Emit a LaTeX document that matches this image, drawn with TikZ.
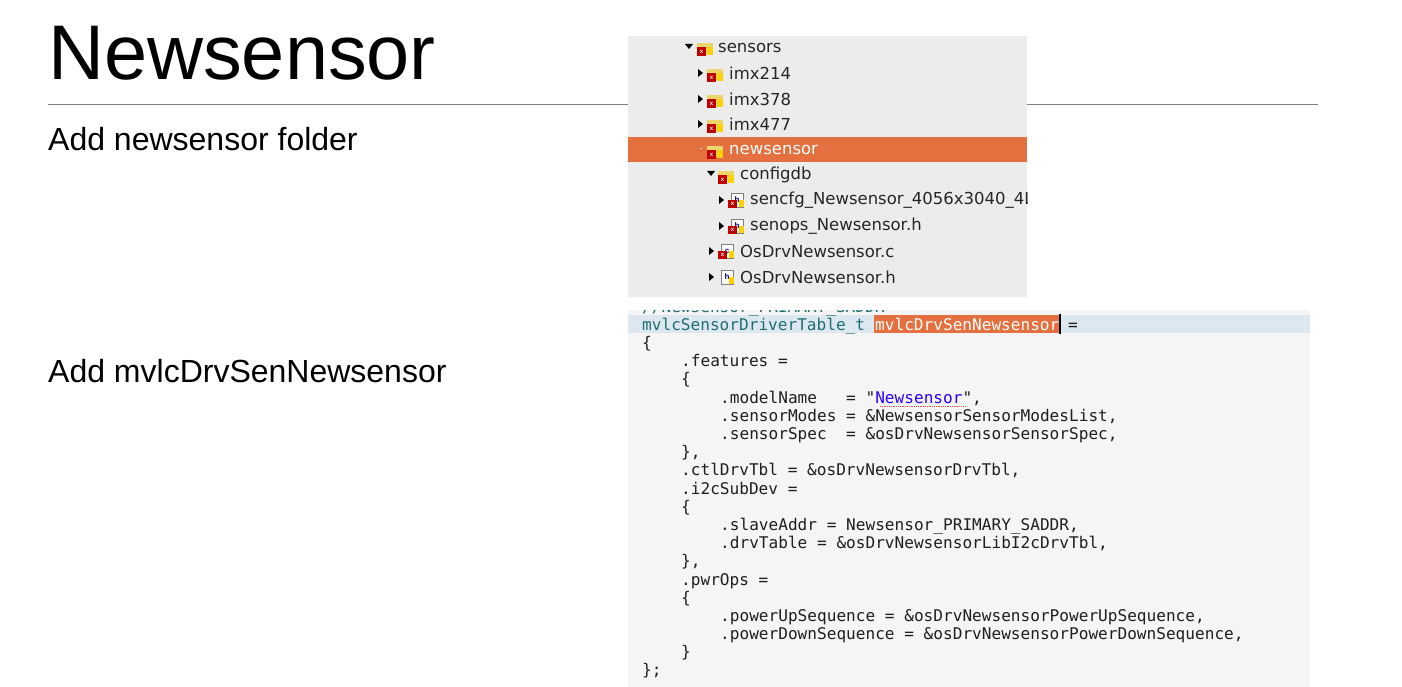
\documentclass[tikz,border=0pt]{standalone}
\usepackage{fontspec}
\setmainfont{Liberation Sans}
\newfontfamily\treefont{DejaVu Sans}
\newfontfamily\codefont{DejaVu Sans Mono}
\begin{document}
\begin{tikzpicture}[x=1pt,y=-1pt,
  heading/.style={anchor=base west,inner sep=0pt,font=\fontsize{77.5}{77.5}\selectfont},
  bodytext/.style={anchor=base west,inner sep=0pt,font=\fontsize{32}{32}\selectfont},
  treeitem/.style={anchor=west,inner sep=0pt,font=\treefont\fontsize{16.5}{16.5}\selectfont,text=black!85},
  codeline/.style={anchor=base west,inner sep=0pt,font=\codefont\fontsize{16.1}{16.1}\selectfont,text=black!88}]
\definecolor{hl}{HTML}{E5703F}
\definecolor{treebg}{HTML}{ECECEC}
\definecolor{codebg}{HTML}{F5F5F5}
\definecolor{rowbg}{HTML}{DDE7F0}
\definecolor{teal2}{HTML}{1F6F6F}
\definecolor{strblue}{HTML}{2A00FF}
\useasboundingbox (0,0) rectangle (1402,687);
\fill[white] (0,0) rectangle (1402,687);
% title
\node[heading] (title) at (48,80) {Newsensor};
\draw[gray,line width=0.8pt] (48,104) -- (1318,104);
\node[bodytext] (t1) at (48,151) {Add newsensor folder};
\node[bodytext] (t2) at (48,382) {Add mvlcDrvSenNewsensor};
% tree panel
\fill[treebg] (628,36) rectangle (1027,297);
\fill[hl] (628,137) rectangle (1027,162);
\begin{scope}
\clip (628,36) rectangle (1027,297);
\newcommand{\fold}[2]{%
  \fill[yellow!55!brown!70] (#1,#2-5) rectangle (#1+16,#2+6);
  \fill[yellow!70!orange] (#1+10,#2-1) rectangle (#1+16,#2+7);
  \fill[red!75!black] (#1,#2-1) rectangle (#1+9,#2+8);
  \node[inner sep=0pt,font=\fontsize{6}{6}\selectfont\bfseries,text=white] at (#1+4.5,#2+3.5) {x};}
\newcommand{\filei}[3]{%
  \fill[white,draw=gray] (#1+3,#2-7) rectangle (#1+15,#2+7);
  \node[inner sep=0pt,font=\fontsize{8}{8}\selectfont\bfseries,text=blue!50!black] at (#1+9,#2) {#3};
  \fill[yellow!70!orange] (#1+11,#2) rectangle (#1+16,#2+7);
  \fill[red!75!black] (#1,#2) rectangle (#1+9,#2+8);
  \node[inner sep=0pt,font=\fontsize{6}{6}\selectfont\bfseries,text=white] at (#1+4.5,#2+4) {x};}
\newcommand{\tridown}[2]{\fill[black] (#1-4,#2-2) -- (#1+4,#2-2) -- (#1,#2+3) -- cycle;}
\newcommand{\triright}[2]{\fill[black] (#1-2,#2-4) -- (#1+3,#2) -- (#1-2,#2+4) -- cycle;}
\tridown{689}{46}\fold{697}{48}
\node[treeitem] (n1) at (718,48) {sensors};
\triright{700}{73}\fold{707}{74}
\node[treeitem] (n2) at (729,73) {imx214};
\triright{700}{99}\fold{707}{100}
\node[treeitem] (n3) at (729,99) {imx378};
\triright{700}{124}\fold{707}{125}
\node[treeitem] (n4) at (729,124) {imx477};
\fill[white!80!hl] (700,148) rectangle (702,149);
\fold{707}{151}
\node[treeitem,text=white] (n5) at (729,150) {newsensor};
\tridown{711}{173}\fold{718}{176}
\node[treeitem] (n6) at (740,175) {configdb};
\triright{721}{200}\filei{728}{200}{h}
\node[treeitem] (n7) at (750,200) {sencfg\_Newsensor\_4056x3040\_4L};
\triright{721}{226}\filei{728}{226}{h}
\node[treeitem] (n8) at (750,226) {senops\_Newsensor.h};
\triright{711}{251}\filei{718}{251}{c}
\node[treeitem] (n9) at (740,251) {OsDrvNewsensor.c};
\triright{711}{277}
\fill[white,draw=gray] (721,270) rectangle (733,284);
\node[inner sep=0pt,font=\fontsize{8}{8}\selectfont\bfseries,text=blue!50!black] at (727,277) {h};
\fill[yellow!70!orange] (729,277) rectangle (734,284);
\node[treeitem] (n10) at (740,277) {OsDrvNewsensor.h};
\end{scope}
% code panel
\fill[codebg] (628,310) rectangle (1310,687);
\fill[rowbg] (628,315) rectangle (1310,333);
\begin{scope}
\clip (628,310) rectangle (1310,687);
\node[codeline,text=teal2] (c0) at (642,312) {//Newsensor\_PRIMARY\_SADDR};
\end{scope}
\fill[hl] (874,315) rectangle (1060,333);
\fill[black] (1059,314) rectangle (1061,334);
\node[codeline,text=teal2] (c1) at (642,330) {mvlcSensorDriverTable\_t};
\node[codeline,text=white] (c1b) at (875,330) {mvlcDrvSenNewsensor};
\node[codeline] (c1c) at (1068,330) {=};
\node[codeline] (c2) at (642,348) {\{};
\node[codeline] (c3) at (681,366) {.features =};
\node[codeline] (c4) at (681,384) {\{};
\node[codeline] (c5) at (720,403) {.modelName~~~= "\textcolor{strblue}{Newsensor}",};
\draw[red!70,densely dotted,line width=0.8pt] (880,406) -- (965,406);
\node[codeline] (c6) at (720,421) {.sensorModes = \&NewsensorSensorModesList,};
\node[codeline] (c7) at (720,439) {.sensorSpec~~= \&osDrvNewsensorSensorSpec,};
\node[codeline] (c8) at (681,457) {\},};
\node[codeline] (c9) at (681,475) {.ctlDrvTbl = \&osDrvNewsensorDrvTbl,};
\node[codeline] (c10) at (681,494) {.i2cSubDev =};
\node[codeline] (c11) at (681,512) {\{};
\node[codeline] (c12) at (720,530) {.slaveAddr = Newsensor\_PRIMARY\_SADDR,};
\node[codeline] (c13) at (720,548) {.drvTable = \&osDrvNewsensorLibI2cDrvTbl,};
\node[codeline] (c14) at (681,566) {\},};
\node[codeline] (c15) at (681,585) {.pwrOps =};
\node[codeline] (c16) at (681,603) {\{};
\node[codeline] (c17) at (720,621) {.powerUpSequence = \&osDrvNewsensorPowerUpSequence,};
\node[codeline] (c18) at (720,639) {.powerDownSequence = \&osDrvNewsensorPowerDownSequence,};
\node[codeline] (c19) at (681,657) {\}};
\node[codeline] (c20) at (642,675) {\};};
\end{tikzpicture}
\end{document}
